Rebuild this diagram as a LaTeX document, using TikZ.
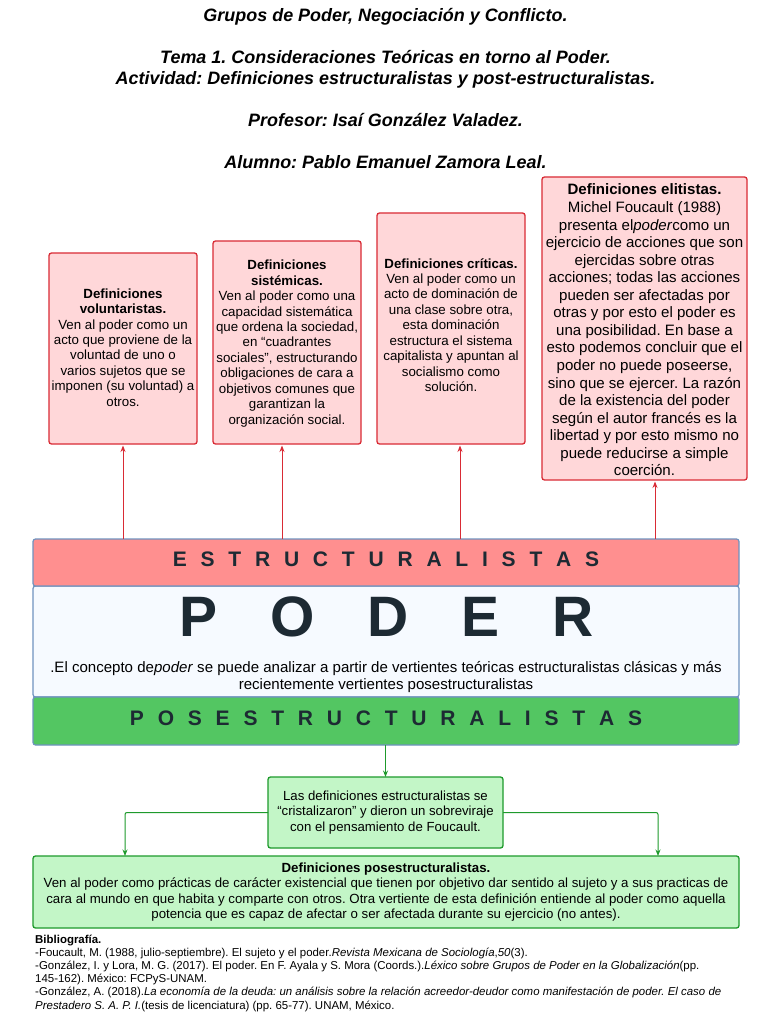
\documentclass[tikz,border=0pt]{standalone}
\usepackage{fontspec}
\setmainfont{Liberation Sans}
\usetikzlibrary{arrows.meta}
\definecolor{redline}{HTML}{D92B35}
\definecolor{redfill}{HTML}{FFD7D9}
\definecolor{estfill}{HTML}{FF8F8F}
\definecolor{blueline}{HTML}{6F93BF}
\definecolor{poderfill}{HTML}{F6FAFF}
\definecolor{posfill}{HTML}{53C662}
\definecolor{greenline}{HTML}{1E9A2C}
\definecolor{greenfill}{HTML}{C3F6C7}
\definecolor{inkdark}{HTML}{1D2A33}
\newcommand\widewords[2]{\spaceskip=#1\relax #2}
\frenchspacing
\tikzset{
  x=1pt,y=-1pt,
  box/.style={draw,rounded corners=2.5pt,line width=1.3pt,inner sep=0pt,outer sep=0pt,align=center,text=black},
  redbox/.style={box,draw=redline,fill=redfill},
  redtext/.style={inner sep=0pt,align=center,text=black,font=\fontsize{13.3}{15.45}\selectfont},
  bandbox/.style={box,draw=blueline,line width=1.2pt},
  bandtext/.style={inner sep=0pt,text=inkdark,font=\fontsize{21}{24}\selectfont\bfseries},
  greenbox/.style={box,draw=greenline,fill=greenfill,font=\fontsize{13.2}{15.5}\selectfont},
  title/.style={inner sep=0pt,align=center,text=black,font=\fontsize{17.95}{21}\selectfont\bfseries\itshape},
  redarrow/.style={draw=redline,line width=1pt,shorten >=1.5pt,-{Stealth[length=6.5pt,width=5pt]}},
  greenarrow/.style={draw=greenline,line width=1pt,rounded corners=2pt,-{Stealth[length=6.5pt,width=5pt]}},
}
\begin{document}
\begin{tikzpicture}
\useasboundingbox (0,0) rectangle (768,1024);
\fill[white] (0,0) rectangle (768,1024);

\node[title] (t1) at (385.5,17) {Grupos de Poder, Negociación y Conflicto.};
\node[title] (t2) at (385.5,69) {Tema 1. Consideraciones Teóricas en torno al Poder.\\Actividad: Definiciones estructuralistas y post-estructuralistas.};
\node[title] (t3) at (385.5,120.5) {Profesor: Isaí González Valadez.};
\node[title] (t4) at (385.5,162.5) {Alumno: Pablo Emanuel Zamora Leal.};

\node[redbox,minimum width=148pt,minimum height=191pt] (vol) at (123,348.5) {};
\node[redtext] (volt) at (123,347.5)
 {\textbf{Definiciones}\\\textbf{voluntaristas.}\\Ven al poder como un\\acto que proviene de la\\voluntad de uno o\\varios sujetos que se\\imponen (su voluntad) a\\otros.};
\node[redbox,minimum width=148pt,minimum height=203pt] (sis) at (287,342.5) {};
\node[redtext] (sist) at (287,343.5)
 {\textbf{Definiciones}\\\textbf{sistémicas.}\\Ven al poder como una\\capacidad sistemática\\que ordena la sociedad,\\en “cuadrantes\\sociales”, estructurando\\obligaciones de cara a\\objetivos comunes que\\garantizan la\\organización social.};
\node[redbox,minimum width=148pt,minimum height=231pt] (cri) at (451,328.5) {};
\node[redtext] (crit) at (451,325)
 {\textbf{Definiciones críticas.}\\Ven al poder como un\\acto de dominación de\\una clase sobre otra,\\esta dominación\\estructura el sistema\\capitalista y apuntan al\\socialismo como\\solución.};
\node[redbox,minimum width=205pt,minimum height=303pt] (eli) at (644.5,328.5) {};
\node[redtext,font=\fontsize{15.05}{17.55}\selectfont] (elit) at (644.5,330)
 {\textbf{Definiciones elitistas.}\\Michel Foucault (1988)\\presenta el\textit{poder}como un\\ejercicio de acciones que son\\ejercidas sobre otras\\acciones; todas las acciones\\pueden ser afectadas por\\otras y por esto el poder es\\una posibilidad. En base a\\esto podemos concluir que el\\poder no puede poseerse,\\sino que se ejercer. La razón\\de la existencia del poder\\según el autor francés es la\\libertad y por esto mismo no\\puede reducirse a simple\\coerción.};

\node[bandbox,fill=poderfill,minimum width=706pt,minimum height=111pt] (pod) at (386,641.5) {};
\node[bandbox,fill=estfill,minimum width=706pt,minimum height=47pt] (est) at (386,562.5) {};
\node[bandtext] (estw) at (386,559.5) {\widewords{13.8pt}{E S T R U C T U R A L I S T A S}};
\node[bandbox,fill=posfill,minimum width=706pt,minimum height=48pt] (pos) at (386,721) {};
\node[bandtext] (posw) at (386,718.5) {\widewords{13.8pt}{P O S E S T R U C T U R A L I S T A S}};
\node[inner sep=0pt,text=inkdark,font=\fontsize{57}{60}\selectfont\bfseries] (word) at (386.5,616.5) {\widewords{53pt}{P O D E R}};
\node[inner sep=0pt,align=center,text=black,font=\fontsize{15.05}{17.5}\selectfont] (desc) at (386,677)
 {.El concepto de\textit{poder} se puede analizar a partir de vertientes teóricas estructuralistas clásicas y más\\recientemente vertientes posestructuralistas};

\node[greenbox,minimum width=235pt,minimum height=71pt] (cri2) at (385.5,812.5)
 {Las definiciones estructuralistas se\\“cristalizaron” y dieron un sobreviraje\\con el pensamiento de Foucault.};
\node[greenbox,minimum width=706pt,minimum height=72pt,font=\fontsize{13.27}{15.5}\selectfont] (dpos) at (386,892)
 {\textbf{Definiciones posestructuralistas.}\\Ven al poder como prácticas de carácter existencial que tienen por objetivo dar sentido al sujeto y a sus practicas de\\cara al mundo en que habita y comparte con otros. Otra vertiente de esta definición entiende al poder como aquella\\potencia que es capaz de afectar o ser afectada durante su ejercicio (no antes).};

\node[anchor=north west,inner sep=0pt,align=left,text=black,font=\fontsize{11.45}{13.2}\selectfont] (bib) at (35,934.5)
 {\textbf{Bibliografía.}\\-Foucault, M. (1988, julio-septiembre). El sujeto y el poder.\textit{Revista Mexicana de Sociología},\textit{50}(3).\\-González, I. y Lora, M. G. (2017). El poder. En F. Ayala y S. Mora (Coords.).\textit{Léxico sobre Grupos de Poder en la Globalización}(pp.\\145-162). México: FCPyS-UNAM.\\-González, A. (2018).\textit{La economía de la deuda: un análisis sobre la relación acreedor-deudor como manifestación de poder. El caso de}\\\textit{Prestadero S. A. P. I.}(tesis de licenciatura) (pp. 65-77). UNAM, México.};

\coordinate (x2) at (282,0);
\coordinate (x3) at (460,0);
\coordinate (x4) at (655,0);
\coordinate (x5) at (125,0);
\coordinate (x6) at (658,0);
\draw[redarrow] (est.north -| vol.south) -- (vol.south);
\draw[redarrow] (est.north -| x2) -- (sis.south -| x2);
\draw[redarrow] (est.north -| x3) -- (cri.south -| x3);
\draw[redarrow] (est.north -| x4) -- (eli.south -| x4);
\draw[greenarrow] (pos.south -| cri2.north) -- (cri2.north);
\draw[greenarrow] (cri2.west) -- (cri2.west -| x5) -- (dpos.north -| x5);
\draw[greenarrow] (cri2.east) -- (cri2.east -| x6) -- (dpos.north -| x6);
\end{tikzpicture}
\end{document}
